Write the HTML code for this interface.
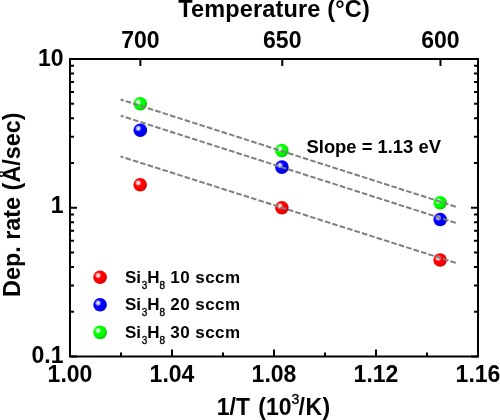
<!DOCTYPE html>
<html><head><meta charset="utf-8"><style>
html,body{margin:0;padding:0;background:#fff;}
svg{display:block;}
text{font-family:"Liberation Sans",Arial,sans-serif;font-weight:bold;fill:#000;}
.ttl{font-size:23.5px;letter-spacing:0.15px;}
.tk{font-size:23px;}
.ax{font-size:23px;}
.sup{font-size:14px;font-weight:normal;stroke:#000;stroke-width:0.35px;}
.lg{font-size:17px;}
.sub{font-size:10px;font-weight:normal;stroke:#000;stroke-width:0.35px;}
.sl{font-size:18.4px;}
.ls{letter-spacing:0.5px;}
.yl{font-size:23.4px;}
</style></head><body>
<svg width="500" height="420" viewBox="0 0 500 420">
<defs><radialGradient id="gr" cx="0.38" cy="0.38" r="0.7"><stop offset="0" stop-color="#ff0000"/><stop offset="0.6" stop-color="#ff0000"/><stop offset="1" stop-color="#c80000"/></radialGradient><radialGradient id="gb" cx="0.38" cy="0.38" r="0.7"><stop offset="0" stop-color="#0000ff"/><stop offset="0.6" stop-color="#0000ff"/><stop offset="1" stop-color="#0000b4"/></radialGradient><radialGradient id="gg" cx="0.38" cy="0.38" r="0.7"><stop offset="0" stop-color="#00ff00"/><stop offset="0.6" stop-color="#00ff00"/><stop offset="1" stop-color="#00b400"/></radialGradient><radialGradient id="hl" cx="0.5" cy="0.5" r="0.5"><stop offset="0" stop-color="#fff" stop-opacity="1"/><stop offset="0.35" stop-color="#fff" stop-opacity="0.85"/><stop offset="1" stop-color="#fff" stop-opacity="0"/></radialGradient></defs>
<rect width="500" height="420" fill="#fff"/>
<rect x="70" y="59" width="408" height="297.5" fill="none" stroke="#000" stroke-width="2"/>
<path d="M70.00 356.5V349.50 M121.00 356.5V352.50 M172.00 356.5V349.50 M223.00 356.5V352.50 M274.00 356.5V349.50 M325.00 356.5V352.50 M376.00 356.5V349.50 M427.00 356.5V352.50 M478.00 356.5V349.50 M70 356.50H77 M478 356.50H471 M70 311.72H74 M478 311.72H474 M70 285.53H74 M478 285.53H474 M70 266.94H74 M478 266.94H474 M70 252.53H74 M478 252.53H474 M70 240.75H74 M478 240.75H474 M70 230.79H74 M478 230.79H474 M70 222.17H74 M478 222.17H474 M70 214.56H74 M478 214.56H474 M70 207.75H77 M478 207.75H471 M70 207.75H77 M478 207.75H471 M70 162.97H74 M478 162.97H474 M70 136.78H74 M478 136.78H474 M70 118.19H74 M478 118.19H474 M70 103.78H74 M478 103.78H474 M70 92.00H74 M478 92.00H474 M70 82.04H74 M478 82.04H474 M70 73.42H74 M478 73.42H474 M70 65.81H74 M478 65.81H474 M70 59.00H77 M478 59.00H471 M140.36 59V66 M282.28 59V66 M440.46 59V66" stroke="#000" stroke-width="2" fill="none"/>
<circle cx="140.20" cy="184.70" r="6.8" fill="url(#gr)"/><circle cx="138.20" cy="182.90" r="3.4" fill="url(#hl)"/>
<circle cx="281.90" cy="207.70" r="6.8" fill="url(#gr)"/><circle cx="279.90" cy="205.90" r="3.4" fill="url(#hl)"/>
<circle cx="440.10" cy="260.00" r="6.8" fill="url(#gr)"/><circle cx="438.10" cy="258.20" r="3.4" fill="url(#hl)"/>
<circle cx="140.30" cy="130.20" r="6.8" fill="url(#gb)"/><circle cx="138.30" cy="128.40" r="3.4" fill="url(#hl)"/>
<circle cx="281.90" cy="167.10" r="6.8" fill="url(#gb)"/><circle cx="279.90" cy="165.30" r="3.4" fill="url(#hl)"/>
<circle cx="440.20" cy="219.50" r="6.8" fill="url(#gb)"/><circle cx="438.20" cy="217.70" r="3.4" fill="url(#hl)"/>
<circle cx="140.30" cy="103.80" r="6.8" fill="url(#gg)"/><circle cx="138.30" cy="102.00" r="3.4" fill="url(#hl)"/>
<circle cx="281.80" cy="150.50" r="6.8" fill="url(#gg)"/><circle cx="279.80" cy="148.70" r="3.4" fill="url(#hl)"/>
<circle cx="440.20" cy="202.80" r="6.8" fill="url(#gg)"/><circle cx="438.20" cy="201.00" r="3.4" fill="url(#hl)"/>
<line x1="120.7" y1="99.5" x2="456.1" y2="206.8" stroke="#7f7f7f" stroke-width="2" stroke-dasharray="5.6 2.15" stroke-dashoffset="2.5"/>
<line x1="120.7" y1="115.7" x2="456.1" y2="223.0" stroke="#7f7f7f" stroke-width="2" stroke-dasharray="5.6 2.15" stroke-dashoffset="2.5"/>
<line x1="120.5" y1="156.4" x2="456.4" y2="263.1" stroke="#7f7f7f" stroke-width="2" stroke-dasharray="5.6 2.15" stroke-dashoffset="2.5"/>
<circle cx="100.10" cy="277.20" r="6.8" fill="url(#gr)"/><circle cx="98.10" cy="275.40" r="3.4" fill="url(#hl)"/>
<text x="125" y="282.5" class="lg">Si<tspan class="sub" dy="6" dx="0.6">3</tspan><tspan dy="-6">H</tspan><tspan class="sub" dy="6">8</tspan><tspan dy="-6" x="170.3" class="ls">10</tspan><tspan x="195.2" class="ls">sccm</tspan></text>
<circle cx="100.10" cy="304.80" r="6.8" fill="url(#gb)"/><circle cx="98.10" cy="303.00" r="3.4" fill="url(#hl)"/>
<text x="125" y="310.1" class="lg">Si<tspan class="sub" dy="6" dx="0.6">3</tspan><tspan dy="-6">H</tspan><tspan class="sub" dy="6">8</tspan><tspan dy="-6" x="170.3" class="ls">20</tspan><tspan x="195.2" class="ls">sccm</tspan></text>
<circle cx="100.10" cy="332.40" r="6.8" fill="url(#gg)"/><circle cx="98.10" cy="330.60" r="3.4" fill="url(#hl)"/>
<text x="125" y="337.7" class="lg">Si<tspan class="sub" dy="6" dx="0.6">3</tspan><tspan dy="-6">H</tspan><tspan class="sub" dy="6">8</tspan><tspan dy="-6" x="170.3" class="ls">30</tspan><tspan x="195.2" class="ls">sccm</tspan></text>
<text x="274.1" y="17" class="ttl" text-anchor="middle">Temperature (°C)</text>
<text x="140.36" y="47.5" class="tk" text-anchor="middle">700</text>
<text x="282.28" y="47.5" class="tk" text-anchor="middle">650</text>
<text x="440.46" y="47.5" class="tk" text-anchor="middle">600</text>
<text x="70.00" y="381.8" class="tk" text-anchor="middle">1.00</text>
<text x="172.00" y="381.8" class="tk" text-anchor="middle">1.04</text>
<text x="274.00" y="381.8" class="tk" text-anchor="middle">1.08</text>
<text x="376.00" y="381.8" class="tk" text-anchor="middle">1.12</text>
<text x="478.00" y="381.8" class="tk" text-anchor="middle">1.16</text>
<text x="63.5" y="65.6" class="tk" text-anchor="end">10</text>
<text x="63.5" y="213.4" class="tk" text-anchor="end">1</text>
<text x="63.5" y="362.7" class="tk" text-anchor="end">0.1</text>
<text y="415" class="ax"><tspan x="216.8">1/T</tspan><tspan x="258.3">(10</tspan><tspan class="sup" x="291.6" dy="-10.9">3</tspan><tspan x="298.4" dy="10.9" letter-spacing="0.6">/K)</tspan></text>
<text transform="translate(20 204.7) rotate(-90)" class="yl" text-anchor="middle">Dep. rate (Å/sec)</text>
<text x="306.5" y="153" class="sl">Slope = 1.13 eV</text>
</svg>
</body></html>
